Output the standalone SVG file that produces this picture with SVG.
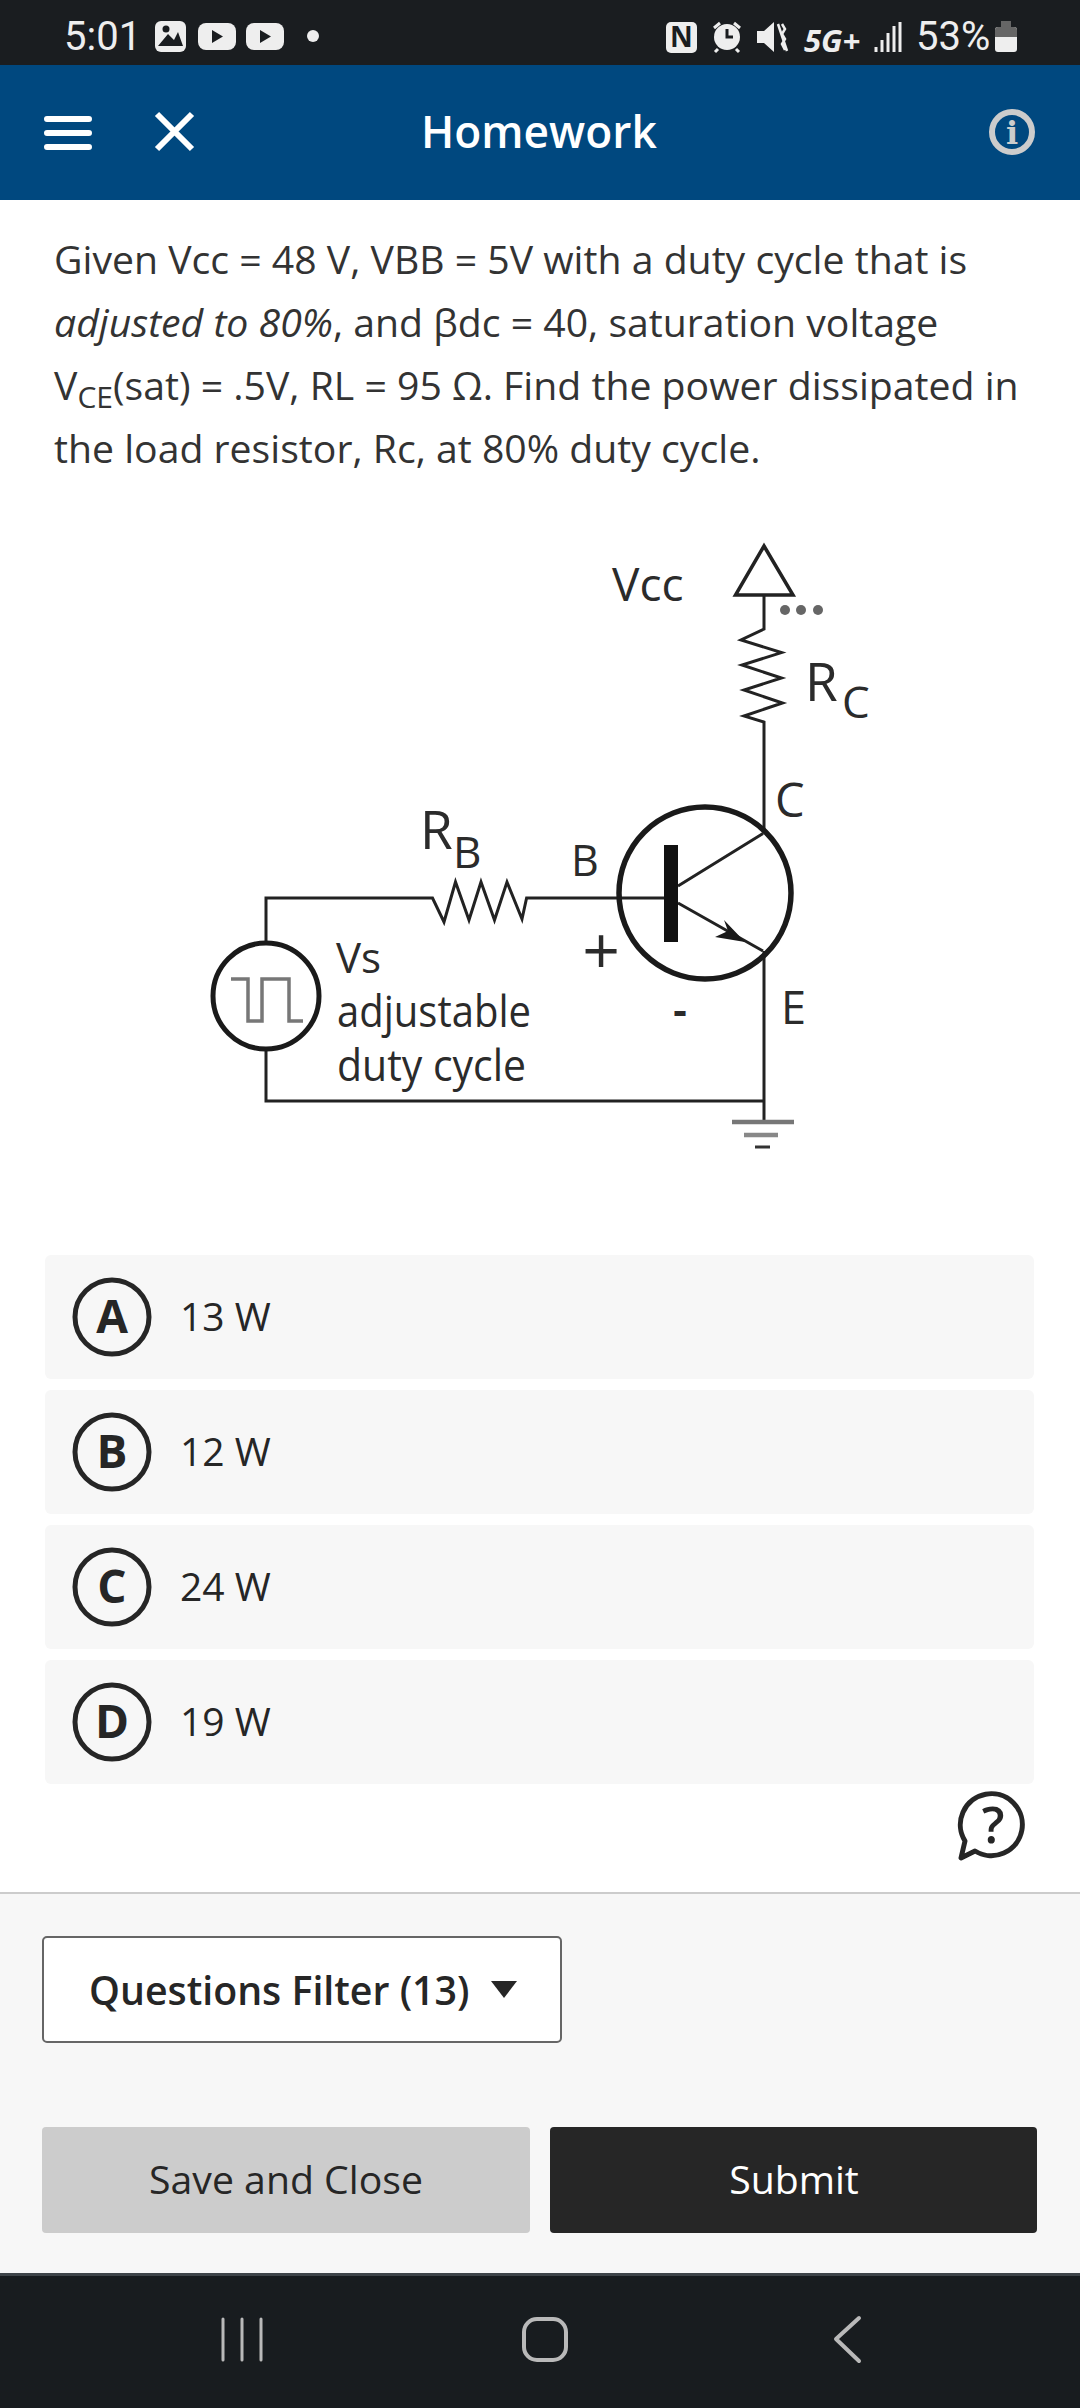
<svg xmlns="http://www.w3.org/2000/svg" width="1080" height="2408" viewBox="0 0 1080 2408">
<style>
text{font-family:"Open Sans","Noto Sans",sans-serif;fill:#262626}
.q{font-size:39.2px;fill:#333}
.lab{fill:#2b2b2b}
.w{fill:none;stroke:#222;stroke-width:3;stroke-linejoin:miter}
.card{fill:#f7f7f7}
.ring{fill:none;stroke:#262626;stroke-width:5}
.let{font-size:46px;font-weight:700;text-anchor:middle}
.val{font-size:39px}
.st{font-family:Roboto,sans-serif;font-size:40px;fill:#eee}
.ic{fill:#eee}
.nav{fill:none;stroke:#b9b9b9;stroke-width:4;stroke-linecap:round;stroke-linejoin:round}
.btn{font-size:39.2px;text-anchor:middle}
</style>
<rect width="1080" height="2408" fill="#fff"/>
<g id="status-bar">
<rect width="1080" height="65" fill="#1a1d20"/>
<text class="st" x="64" y="50">5:01</text>
<rect class="ic" x="155" y="21" width="31" height="31" rx="6"/>
<path d="M158 46l10-12 6 6 4-8 5 14z" fill="#1a1d20"/><circle cx="166" cy="29" r="3.5" fill="#1a1d20"/>
<rect class="ic" x="198" y="23" width="38" height="27" rx="8"/><path d="M212 30l11 6.5-11 6.500z" fill="#1a1d20"/>
<rect class="ic" x="246" y="23" width="38" height="27" rx="8"/><path d="M260 30l11 6.5-11 6.500z" fill="#1a1d20"/>
<circle class="ic" cx="313" cy="36" r="6"/>
<rect class="ic" x="666" y="22" width="31" height="31" rx="5"/>
<text x="681.5" y="47" font-size="28" font-weight="700" text-anchor="middle" style="fill:#1a1d20">N</text>
<circle class="ic" cx="727" cy="37" r="13"/><path d="M727 29v8h6" fill="none" stroke="#1a1d20" stroke-width="3"/>
<path d="M714 28l6-5M740 28l-6-5M718 49l-3 3M736 49l3 3" stroke="#eee" stroke-width="3"/>
<path class="ic" d="M757 31h7l10-9v30l-10-9h-7z"/>
<path d="M778 24l9 27M782 24l3 5-3 5 3 5-3 5 3 6" fill="none" stroke="#eee" stroke-width="2.500"/>
<text x="804" y="52" font-size="31" font-weight="700" font-style="italic" style="fill:#eee">5G+</text>
<path d="M876 52v-5M882 52v-12M888 52v-19M894 52v-26M900 52v-30" stroke="#eee" stroke-width="3"/>
<text class="st" x="916" y="50">53%</text>
<rect x="995" y="27" width="22" height="25" rx="3" fill="#eee"/>
<path d="M995 37v-7a3 3 0 0 1 3-3h3v-6h10v6h3a3 3 0 0 1 3 3v7z" fill="#666"/>
</g>
<g id="header">
<rect y="65" width="1080" height="135" fill="#00487f"/>
<path d="M47 119h42M47 133h42M47 147h42" stroke="#fff" stroke-width="6" stroke-linecap="round"/>
<path d="M157 114l35 35M192 114l-35 35" stroke="#fff" stroke-width="6"/>
<text x="421" y="148" font-size="44.300" font-weight="600" style="fill:#fff">Homework</text>
<circle cx="1012" cy="132" r="20" fill="none" stroke="#ccc" stroke-width="6"/>
<text x="1012" y="144" font-size="32" font-weight="700" text-anchor="middle" style="font-family:'DejaVu Serif',serif;fill:#ccc">i</text>
</g>
<g id="question">
<text class="q" x="54" y="274">Given Vcc = 48 V, VBB = 5V with a duty cycle that is</text>
<text class="q" x="54" y="337"><tspan font-style="italic">adjusted to 80%</tspan>, and βdc = 40, saturation voltage</text>
<text class="q" x="54" y="400">V<tspan font-size="30" dy="8">CE</tspan><tspan dy="-8">(sat) = .5V, RL = 95 Ω. Find the power dissipated in</tspan></text>
<text class="q" x="54" y="463">the load resistor, Rc, at 80% duty cycle.</text>
</g>
<g id="connectors">
<path class="w" d="M764 595V629L741 640 781.500 652.600 742 665 781.500 678 744 690 782.500 703 744 716 764 722V833.500"/>
<path class="w" d="M266 941V898H432.500L444 922 455.500 882 469 920 481 882 494.500 920 507 882 522 919 526.600 898H664"/>
<path class="w" d="M266 1051V1101H764M764 951V1122"/>
<path class="w" d="M763 833.500L678 886M678 903L763 951"/>
</g>
<g id="vcc">
<path d="M764 546L793 595H735.500z" fill="#fff" stroke="#222" stroke-width="3.500"/>
<text class="lab" x="612" y="601" font-size="46">Vcc</text>
<circle cx="785" cy="610" r="5" fill="#666"/><circle cx="801" cy="610" r="5" fill="#666"/><circle cx="818" cy="610" r="5" fill="#666"/>
</g>
<g id="rc"><text class="lab" x="805" y="701" font-size="53">R</text><text class="lab" x="842" y="718" font-size="44">C</text></g>
<g id="rb"><text class="lab" x="420" y="849" font-size="53">R</text><text class="lab" x="453" y="868" font-size="44">B</text></g>
<g id="transistor">
<circle cx="705" cy="893" r="86" fill="none" stroke="#1a1a1a" stroke-width="5.500"/>
<rect x="664" y="845" width="14" height="97" fill="#111"/>
<path d="M745 942L715 937 728 931 724 920z" fill="#1a1a1a"/>
<text class="lab" x="775" y="817" font-size="47">C</text>
<text class="lab" x="571" y="876" font-size="43">B</text>
<text class="lab" x="781" y="1024" font-size="45">E</text>
<text class="lab" x="601" y="974" font-size="66" text-anchor="middle">+</text>
<text class="lab" x="680" y="1025" font-size="42" font-weight="700" text-anchor="middle">-</text>
</g>
<g id="source">
<circle cx="266" cy="996" r="53" fill="none" stroke="#1a1a1a" stroke-width="5"/>
<path d="M231 979H248V1021H262V979H289V1021H303" fill="none" stroke="#777" stroke-width="3.500"/>
<text class="lab" x="336" y="973" font-size="42">Vs</text>
<text class="lab" x="337" y="1027" font-size="44" textLength="194" lengthAdjust="spacingAndGlyphs">adjustable</text>
<text class="lab" x="337" y="1081" font-size="44" textLength="189" lengthAdjust="spacingAndGlyphs">duty cycle</text>
</g>
<g id="ground">
<path d="M732 1122H794" stroke="#777" stroke-width="4.500"/>
<path d="M744 1135H778" stroke="#888" stroke-width="4.500"/>
<path d="M755 1147H770" stroke="#333" stroke-width="3"/>
</g>
<g id="option-a"><rect class="card" x="45" y="1255" width="989" height="124" rx="6"/><circle class="ring" cx="112" cy="1317" r="37"/><text class="let" x="112" y="1333">A</text><text class="val" x="180" y="1331">13 W</text></g>
<g id="option-b"><rect class="card" x="45" y="1390" width="989" height="124" rx="6"/><circle class="ring" cx="112" cy="1452" r="37"/><text class="let" x="112" y="1468">B</text><text class="val" x="180" y="1466">12 W</text></g>
<g id="option-c"><rect class="card" x="45" y="1525" width="989" height="124" rx="6"/><circle class="ring" cx="112" cy="1587" r="37"/><text class="let" x="112" y="1603">C</text><text class="val" x="180" y="1601">24 W</text></g>
<g id="option-d"><rect class="card" x="45" y="1660" width="989" height="124" rx="6"/><circle class="ring" cx="112" cy="1722" r="37"/><text class="let" x="112" y="1738">D</text><text class="val" x="180" y="1736">19 W</text></g>
<g id="help">
<path d="M975 1851L961 1858 965 1841A31 31 0 1 1 975 1851z" fill="#fff" stroke="#262626" stroke-width="5" stroke-linejoin="round"/>
<text x="993" y="1843" font-size="50" font-weight="600" text-anchor="middle">?</text>
</g>
<g id="footer">
<rect y="1893" width="1080" height="380" fill="#f7f7f7"/>
<rect y="1892" width="1080" height="2" fill="#ccc"/>
<rect x="43" y="1937" width="518" height="105" rx="4" fill="#fff" stroke="#666" stroke-width="2"/>
<text x="89" y="2005" font-size="39.300" font-weight="600">Questions Filter (13)</text>
<path d="M491 1981H517L504 1998z" fill="#262626"/>
<rect x="42" y="2127" width="488" height="106" rx="4" fill="#ccc"/>
<text class="btn" x="286" y="2194">Save and Close</text>
<rect x="550" y="2127" width="487" height="106" rx="4" fill="#262626"/>
<text class="btn" x="794" y="2194" style="fill:#fff">Submit</text>
</g>
<g id="nav-bar">
<rect y="2273" width="1080" height="135" fill="#181c1f"/>
<rect y="2273" width="1080" height="3" fill="#3e4449"/>
<path class="nav" d="M223 2319V2360M242 2319V2360M261 2319V2360" style="stroke-width:3"/>
<rect class="nav" x="524" y="2319" width="42" height="41" rx="13"/>
<path class="nav" d="M859 2318L836 2339 859 2361"/>
</g>
</svg>
